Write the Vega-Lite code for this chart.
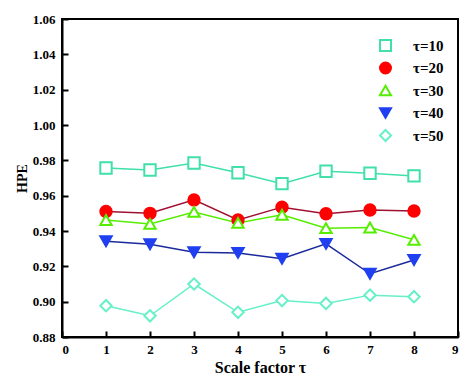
{
  "$schema": "https://vega.github.io/schema/vega-lite/v6.json",
  "width": 396,
  "height": 318,
  "autosize": {"type": "none"},
  "padding": {"left": 62, "top": 19, "right": 16, "bottom": 48},
  "background": "white",
  "config": {
    "font": "Liberation Serif",
    "view": {"stroke": "black", "strokeWidth": 2},
    "axis": {
      "domainColor": "black", "domainWidth": 2, "tickColor": "black", "tickWidth": 2, "tickSize": -6,
      "labelFont": "Liberation Serif", "labelFontWeight": "bold", "labelFontSize": 13, "labelColor": "black",
      "titleFont": "Liberation Serif", "titleFontWeight": "bold", "titleColor": "black", "grid": false
    },
    "legend": {
      "labelFont": "Liberation Serif", "labelFontWeight": "bold", "labelFontSize": 15, "labelColor": "black",
      "labelOffset": 20, "rowPadding": 3.5, "symbolSize": 121, "symbolStrokeWidth": 2
    }
  },
  "data": {
    "values": [
      {"s": 1, "tau": "τ=10", "v": 0.9757}, {"s": 2, "tau": "τ=10", "v": 0.9745}, {"s": 3, "tau": "τ=10", "v": 0.9785}, {"s": 4, "tau": "τ=10", "v": 0.9730}, {"s": 5, "tau": "τ=10", "v": 0.9668}, {"s": 6, "tau": "τ=10", "v": 0.9738}, {"s": 7, "tau": "τ=10", "v": 0.9727}, {"s": 8, "tau": "τ=10", "v": 0.9712},
      {"s": 1, "tau": "τ=20", "v": 0.9510}, {"s": 2, "tau": "τ=20", "v": 0.9500}, {"s": 3, "tau": "τ=20", "v": 0.9576}, {"s": 4, "tau": "τ=20", "v": 0.9462}, {"s": 5, "tau": "τ=20", "v": 0.9535}, {"s": 6, "tau": "τ=20", "v": 0.9498}, {"s": 7, "tau": "τ=20", "v": 0.9519}, {"s": 8, "tau": "τ=20", "v": 0.9513},
      {"s": 1, "tau": "τ=30", "v": 0.9462}, {"s": 2, "tau": "τ=30", "v": 0.9440}, {"s": 3, "tau": "τ=30", "v": 0.9508}, {"s": 4, "tau": "τ=30", "v": 0.9446}, {"s": 5, "tau": "τ=30", "v": 0.9492}, {"s": 6, "tau": "τ=30", "v": 0.9416}, {"s": 7, "tau": "τ=30", "v": 0.9420}, {"s": 8, "tau": "τ=30", "v": 0.9350},
      {"s": 1, "tau": "τ=40", "v": 0.9342}, {"s": 2, "tau": "τ=40", "v": 0.9325}, {"s": 3, "tau": "τ=40", "v": 0.9280}, {"s": 4, "tau": "τ=40", "v": 0.9276}, {"s": 5, "tau": "τ=40", "v": 0.9243}, {"s": 6, "tau": "τ=40", "v": 0.9327}, {"s": 7, "tau": "τ=40", "v": 0.9158}, {"s": 8, "tau": "τ=40", "v": 0.9236},
      {"s": 1, "tau": "τ=50", "v": 0.8977}, {"s": 2, "tau": "τ=50", "v": 0.8920}, {"s": 3, "tau": "τ=50", "v": 0.9100}, {"s": 4, "tau": "τ=50", "v": 0.8940}, {"s": 5, "tau": "τ=50", "v": 0.9006}, {"s": 6, "tau": "τ=50", "v": 0.8990}, {"s": 7, "tau": "τ=50", "v": 0.9037}, {"s": 8, "tau": "τ=50", "v": 0.9028}
    ]
  },
  "encoding": {
    "x": {"field": "s", "type": "quantitative", "scale": {"domain": [0, 9], "nice": false},
          "axis": {"values": [0,1,2,3,4,5,6,7,8,9], "title": "Scale factor τ", "titleFontSize": 16, "labelPadding": 12, "titlePadding": 3}},
    "y": {"field": "v", "type": "quantitative", "scale": {"domain": [0.88, 1.06], "nice": false, "zero": false},
          "axis": {"values": [0.88,0.90,0.92,0.94,0.96,0.98,1.00,1.02,1.04,1.06], "format": ".2f", "title": "HPE", "titleFontSize": 14, "labelPadding": 13, "titlePadding": 3}}
  },
  "layer": [
    {
      "mark": {"type": "line", "strokeWidth": 1.5},
      "encoding": {
        "color": {"field": "tau", "type": "nominal", "legend": null,
                   "scale": {"domain": ["τ=50","τ=40","τ=30","τ=20","τ=10"], "range": ["#66f0c8","#1a2a9a","#55ee00","#a01030","#40e0a8"]}}
      }
    },
    {
      "mark": {"type": "point", "size": 130, "strokeWidth": 2, "opacity": 1, "filled": false},
      "encoding": {
        "shape": {"field": "tau", "type": "nominal", "title": null,
                  "scale": {"domain": ["τ=10","τ=20","τ=30","τ=40","τ=50"], "range": ["square","circle","triangle-up","triangle-down","diamond"]},
                  "legend": {
                    "orient": "none", "legendX": 316, "legendY": 19, "padding": 0,
                    "encode": {"symbols": {"shape": {"value": {"signal": "datum.value == 'τ=10' ? 'M-1.5,0H-0.5M0.5,0H1.5M-0.5,-0.5H0.5V0.5H-0.5Z' : datum.value == 'τ=20' ? 'M-1.5,0H1.5M0.55,0A0.55,0.55,0,1,1,-0.55,0A0.55,0.55,0,1,1,0.55,0Z' : datum.value == 'τ=30' ? 'M-1.5,0.1H-0.3M0.3,0.1H1.5M0,-0.55L0.6,0.45H-0.6Z' : datum.value == 'τ=40' ? 'M-1.5,-0.1H1.5M0,0.55L0.6,-0.45H-0.6Z' : 'M-1.5,0H-0.55M0.55,0H1.5M0,-0.55L0.55,0L0,0.55L-0.55,0Z'"}}}}
                  }},
        "stroke": {"field": "tau", "type": "nominal", "title": null,
                   "scale": {"domain": ["τ=10","τ=20","τ=30","τ=40","τ=50"], "range": ["#40e0a8","#ff0000","#55ee00","#1f3ff0","#66f0c8"]},
                   "legend": {
                    "orient": "none", "legendX": 316, "legendY": 19, "padding": 0,
                    "encode": {"symbols": {"shape": {"value": {"signal": "datum.value == 'τ=10' ? 'M-1.5,0H-0.5M0.5,0H1.5M-0.5,-0.5H0.5V0.5H-0.5Z' : datum.value == 'τ=20' ? 'M-1.5,0H1.5M0.55,0A0.55,0.55,0,1,1,-0.55,0A0.55,0.55,0,1,1,0.55,0Z' : datum.value == 'τ=30' ? 'M-1.5,0.1H-0.3M0.3,0.1H1.5M0,-0.55L0.6,0.45H-0.6Z' : datum.value == 'τ=40' ? 'M-1.5,-0.1H1.5M0,0.55L0.6,-0.45H-0.6Z' : 'M-1.5,0H-0.55M0.55,0H1.5M0,-0.55L0.55,0L0,0.55L-0.55,0Z'"}}}}
                  }},
        "fill": {"field": "tau", "type": "nominal", "title": null,
                 "scale": {"domain": ["τ=10","τ=20","τ=30","τ=40","τ=50"], "range": ["white","#ff0000","white","#1f3ff0","white"]},
                 "legend": {
                    "orient": "none", "legendX": 316, "legendY": 19, "padding": 0,
                    "encode": {"symbols": {"shape": {"value": {"signal": "datum.value == 'τ=10' ? 'M-1.5,0H-0.5M0.5,0H1.5M-0.5,-0.5H0.5V0.5H-0.5Z' : datum.value == 'τ=20' ? 'M-1.5,0H1.5M0.55,0A0.55,0.55,0,1,1,-0.55,0A0.55,0.55,0,1,1,0.55,0Z' : datum.value == 'τ=30' ? 'M-1.5,0.1H-0.3M0.3,0.1H1.5M0,-0.55L0.6,0.45H-0.6Z' : datum.value == 'τ=40' ? 'M-1.5,-0.1H1.5M0,0.55L0.6,-0.45H-0.6Z' : 'M-1.5,0H-0.55M0.55,0H1.5M0,-0.55L0.55,0L0,0.55L-0.55,0Z'"}}}}
                  }}
      }
    }
  ]
}
